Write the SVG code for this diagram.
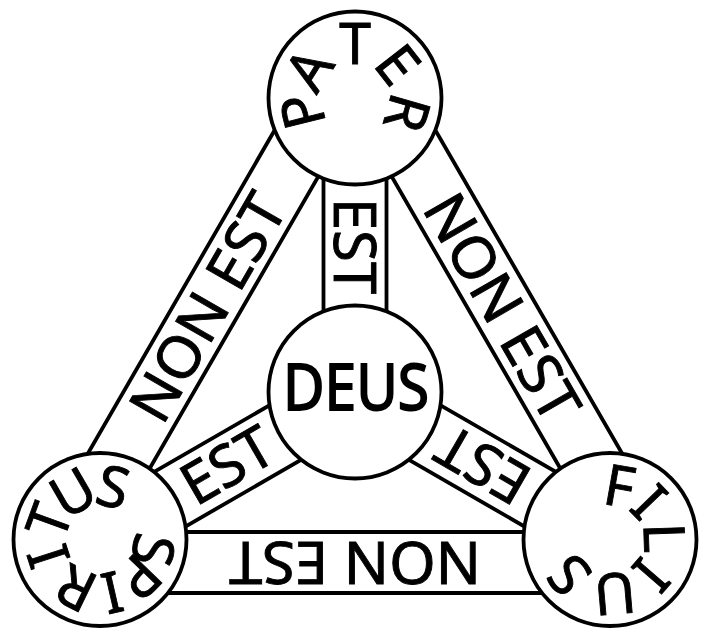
<svg xmlns="http://www.w3.org/2000/svg" width="711" height="639" viewBox="0 0 711 639">
<style>
.band{fill:#fff;stroke:#000;stroke-width:3.8;stroke-linejoin:miter}
.node{fill:#fff;stroke:#000;stroke-width:3.8}
text{font-family:"Noto Sans","Open Sans","DejaVu Sans",sans-serif;fill:#000;stroke:#000;stroke-width:0.9}
.lbl{font-size:58px;text-anchor:middle}
.ch{font-size:57px;text-anchor:middle}
</style>
<rect width="711" height="639" fill="#fff"/>
<g id="connectors">
  <polygon class="band" points="53.67,512.74 308.67,71.24 361.49,101.75 106.49,543.25"/>
  <polygon class="band" points="656.33,512.74 401.33,71.24 348.51,101.75 603.51,543.25"/>
  <polygon class="band" points="100,532 610,532 610,593 100,593"/>
  <polygon class="band" points="323.5,98 386.5,98 386.5,392 323.5,392"/>
  <polygon class="band" points="370.75,419.58 339.25,365.02 84.25,512.22 115.75,566.78"/>
  <polygon class="band" points="339.25,419.58 370.75,365.02 625.75,512.22 594.25,566.78"/>
  <text class="lbl" transform="translate(207.6,307.3) rotate(-60)" y="20.7" textLength="252" lengthAdjust="spacingAndGlyphs">NON EST</text>
  <text class="lbl" transform="translate(502.4,307.3) rotate(60)" y="20.7" textLength="252" lengthAdjust="spacingAndGlyphs">NON EST</text>
  <text class="lbl" transform="translate(355,562.5) rotate(180)" y="20.7" textLength="252" lengthAdjust="spacingAndGlyphs">NON EST</text>
  <text class="lbl" transform="translate(355,246) rotate(90)" y="20.7">EST</text>
  <text class="lbl" transform="translate(227,465) rotate(-30)" y="20.7">EST</text>
  <text class="lbl" transform="translate(483,465) rotate(210)" y="20.7">EST</text>
</g>
<g id="pater">
  <circle class="node" cx="355" cy="98" r="86.5"/>
  <g transform="translate(355,98)">
    <text class="ch" transform="rotate(-104)" y="-34">P</text>
    <text class="ch" transform="rotate(-58)" y="-34">A</text>
    <text class="ch" transform="rotate(0)" y="-34">T</text>
    <text class="ch" transform="rotate(52)" y="-34">E</text>
    <text class="ch" transform="rotate(106)" y="-34">R</text>
  </g>
</g>
<g id="spiritus">
  <circle class="node" cx="100" cy="539.5" r="86.5"/>
  <g transform="translate(100,539.5)">
    <text class="ch" transform="rotate(101)" y="-34">S</text>
    <text class="ch" transform="rotate(134)" y="-34">P</text>
    <text class="ch" transform="rotate(167)" y="-34">I</text>
    <text class="ch" transform="rotate(206)" y="-34">R</text>
    <text class="ch" transform="rotate(252)" y="-34">I</text>
    <text class="ch" transform="rotate(290)" y="-34">T</text>
    <text class="ch" transform="rotate(330)" y="-34">U</text>
    <text class="ch" transform="rotate(374)" y="-34">S</text>
  </g>
</g>
<g id="filius">
  <circle class="node" cx="610" cy="539.5" r="86.5"/>
  <g transform="translate(610,539.5)">
    <text class="ch" transform="rotate(10)" y="-34">F</text>
    <text class="ch" transform="rotate(46)" y="-34">I</text>
    <text class="ch" transform="rotate(88)" y="-34">L</text>
    <text class="ch" transform="rotate(131)" y="-34">I</text>
    <text class="ch" transform="rotate(175)" y="-34">U</text>
    <text class="ch" transform="rotate(229)" y="-34">S</text>
  </g>
</g>
<g id="deus">
  <circle class="node" cx="355" cy="392" r="86.5"/>
  <text x="356" y="410" style="font-size:63px;text-anchor:middle;stroke-width:1.8" textLength="146" lengthAdjust="spacingAndGlyphs">DEUS</text>
</g>
</svg>
